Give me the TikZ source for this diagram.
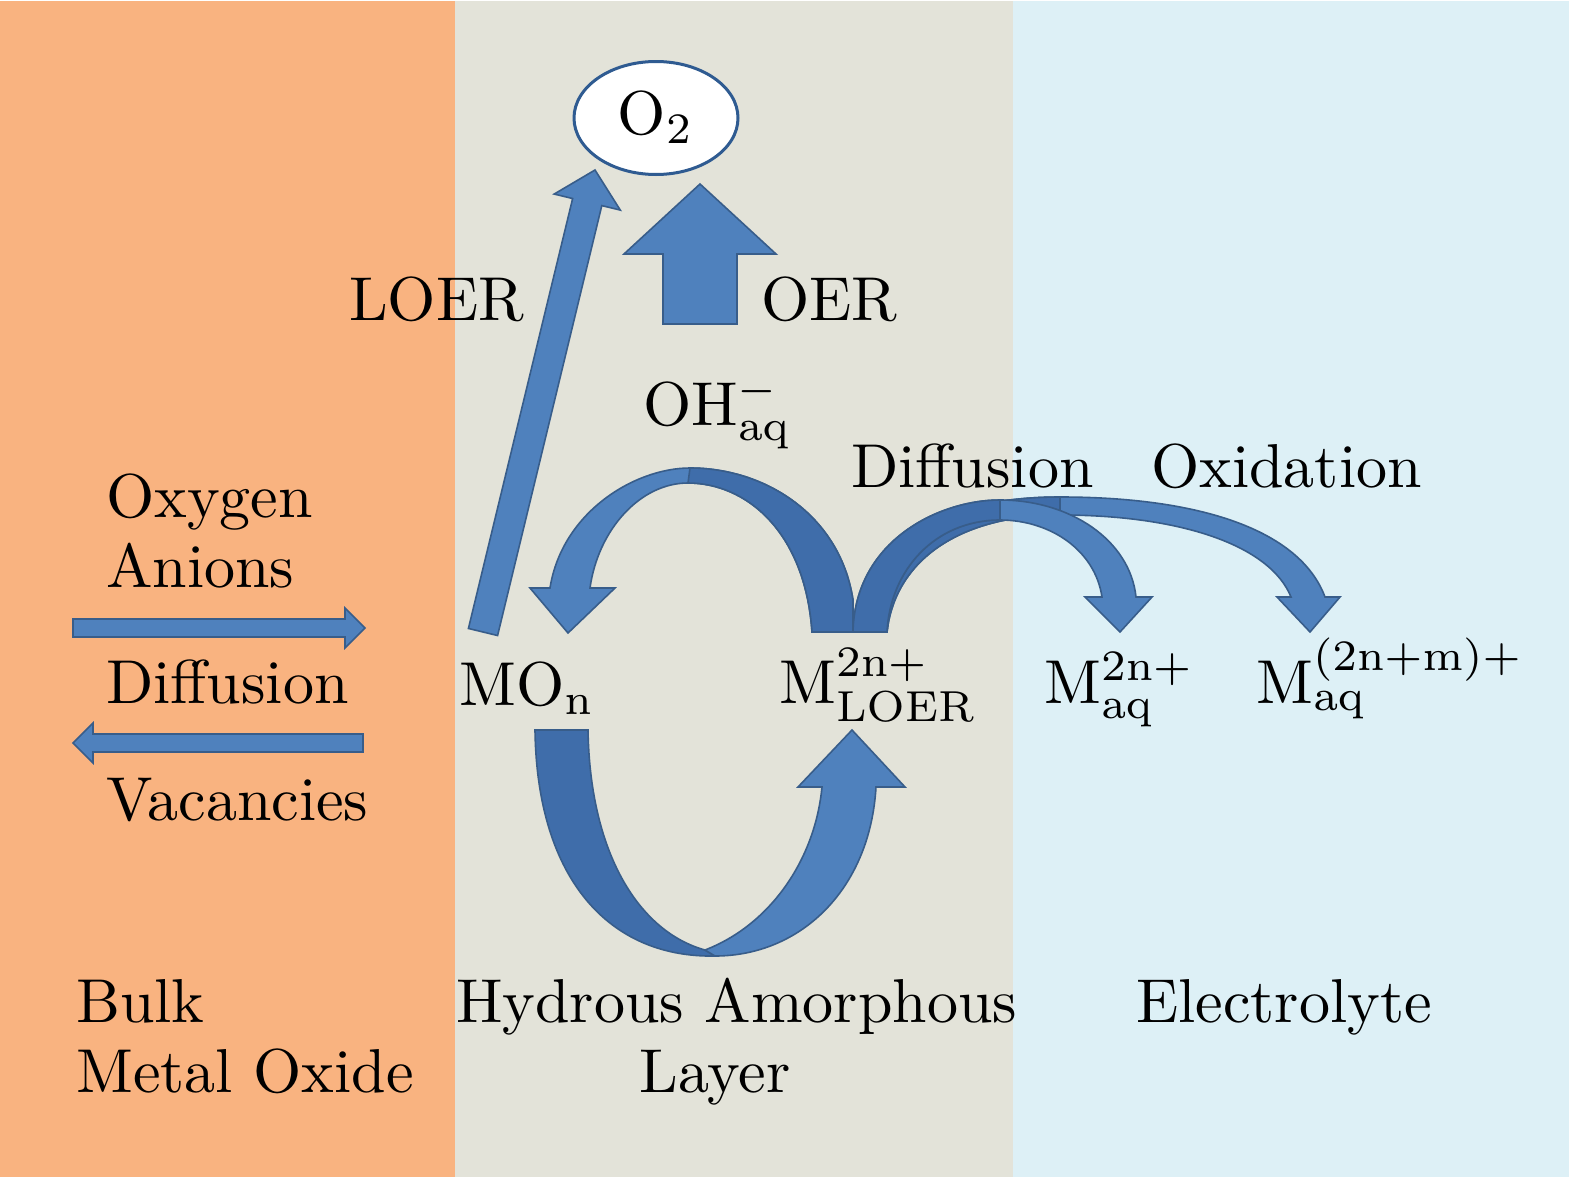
\documentclass[tikz,border=0pt]{standalone}
\usepackage{graphicx}
\usetikzlibrary{calc,shapes.geometric}
\definecolor{orangeBG}{HTML}{F9B380}
\definecolor{beigeBG}{HTML}{E3E3D9}
\definecolor{blueBG}{HTML}{DDF0F6}
\definecolor{arrFill}{HTML}{4F81BD}
\definecolor{arrDark}{HTML}{3F6DAA}
\definecolor{arrLine}{HTML}{385D8A}
\definecolor{ellLine}{HTML}{2F5B91}
\tikzset{
  lbl/.style={anchor=base west, inner sep=0pt, font=\fontsize{10}{12}\selectfont, scale=3.1, transform shape},
  blk/.style={fill=arrFill, draw=arrLine, line width=0.8pt, line join=miter},
  blkdark/.style={fill=arrDark, draw=arrLine, line width=0.8pt, line join=miter},
}
\newcommand{\blockarrow}[6]{%
  \path (#2) coordinate (ba-s) (#3) coordinate (ba-t);
  \path ($(ba-t)!#6!(ba-s)$) coordinate (ba-h);
  \draw[#1] ($(ba-s)!#4!90:(ba-t)$) -- ($(ba-h)!#4!90:(ba-t)$) -- ($(ba-h)!#5!90:(ba-t)$)
    -- (ba-t) -- ($(ba-h)!#5!-90:(ba-t)$) -- ($(ba-h)!#4!-90:(ba-t)$) -- ($(ba-s)!#4!-90:(ba-t)$) -- cycle;
}
\begin{document}
\begin{tikzpicture}[x=0.5pt,y=-0.5pt]
\useasboundingbox (0,0) rectangle (1575,1183);
\fill[white] (0,0) rectangle (1575,1183);
\fill[orangeBG] (0,1) rectangle (455,1177);
\fill[beigeBG] (455,1) rectangle (1013,1177);
\fill[blueBG] (1013,1) rectangle (1569,1177);

% O2 ellipse
\node[ellipse, draw=ellLine, line width=1.5pt, fill=white, minimum width=82pt, minimum height=56.5pt, inner sep=0pt,
      font=\fontsize{10}{12}\selectfont] (o2) at (656,118) {\scalebox{3.1}{$\mathrm{O_2}$}};

% labels
\node[lbl] (loer) at (348,320) {LOER};
\node[lbl] (oer) at (760,320) {OER};
\node[lbl] (oh) at (642,425) {$\mathrm{OH^-_{aq}}$};
\node[lbl] (diffa) at (850,487) {Diffusion};
\node[lbl] (oxi) at (1150,487) {Oxidation};
\node[lbl] (oxy) at (105,517) {Oxygen};
\node[lbl] (ani) at (105,587) {Anions};
\node[lbl] (diffb) at (105,703) {Diffusion};
\node[lbl] (vac) at (105,820) {Vacancies};
\node[lbl] (mon) at (458,705) {$\mathrm{MO_n}$};
\node[lbl] (mloer) at (778,703) {$\mathrm{M^{2n+}_{LOER}}$};
\node[lbl] (maqa) at (1043,703) {$\mathrm{M^{2n+}_{aq}}$};
\node[lbl] (maqb) at (1255,703) {$\mathrm{M^{(2n+m)+}_{aq}}$};
\node[lbl] (bulk) at (75,1022) {Bulk};
\node[lbl] (mox) at (75,1092) {Metal Oxide};
\node[lbl] (hyd) at (455,1022) {Hydrous Amorphous};
\node[lbl, anchor=base] (lay) at (715,1092) {Layer};
\node[lbl] (ele) at (1135,1022) {Electrolyte};

% straight block arrows
\blockarrow{blk}{483,632}{595,170}{7.5pt}{17pt}{16.5pt}
\blockarrow{blk}{700,324}{700,184}{18.5pt}{38pt}{35pt}
\blockarrow{blk}{73,628}{365,628}{4.5pt}{10pt}{10pt}
\blockarrow{blk}{363,743}{73,743}{4.5pt}{10pt}{10pt}

% OH arc (M_LOER -> MO_n)
\draw[blk] (853,632) -- (853,600) .. controls (840,515) and (765,468) .. (690,468)
  .. controls (635,468) and (562,512) .. (550,588) -- (530,588) -- (568,633) -- (615,588) -- (590,588)
  .. controls (598,530) and (640,483) .. (688,483) .. controls (745,483) and (805,530) .. (812,632) -- cycle;
\draw[blkdark] (853,632) -- (853,600) .. controls (840,515) and (765,468) .. (690,468)
  -- (688,483) .. controls (745,483) and (805,530) .. (812,632) -- cycle;

% diffusion/oxidation arc to M_aq^{(2n+m)+}
\draw[blk] (853,632) .. controls (860,530) and (960,497) .. (1060,497)
  .. controls (1200,497) and (1300,530) .. (1325,597) -- (1340,597) -- (1310,632) -- (1277,597) -- (1291,597)
  .. controls (1270,545) and (1180,515) .. (1060,515) .. controls (960,515) and (895,560) .. (887,632) -- cycle;
\draw[blkdark] (853,632) .. controls (860,530) and (960,497) .. (1060,497)
  -- (1060,515) .. controls (960,515) and (895,560) .. (887,632) -- cycle;

% diffusion arc to M_aq^{2n+}
\draw[blk] (853,632) .. controls (855,540) and (940,500) .. (1000,500)
  .. controls (1070,500) and (1130,540) .. (1136,597) -- (1152,597) -- (1120,632) -- (1085,597) -- (1102,597)
  .. controls (1095,550) and (1050,520) .. (1000,520) .. controls (935,520) and (890,570) .. (887,632) -- cycle;
\draw[blkdark] (853,632) .. controls (855,540) and (940,500) .. (1000,500)
  -- (1000,520) .. controls (935,520) and (890,570) .. (887,632) -- cycle;

% U arrow (MO_n -> M_LOER)
\draw[blkdark] (535,730) -- (588,730) .. controls (590,855) and (640,932) .. (705,950)
  -- (715,956) .. controls (610,958) and (537,880) .. (535,730) -- cycle;
\draw[blk] (705,950) .. controls (770,925) and (815,860) .. (822,787) -- (798,787) -- (852,730) -- (905,787) -- (876,787)
  .. controls (870,890) and (800,956) .. (715,956) -- cycle;
\end{tikzpicture}
\end{document}
